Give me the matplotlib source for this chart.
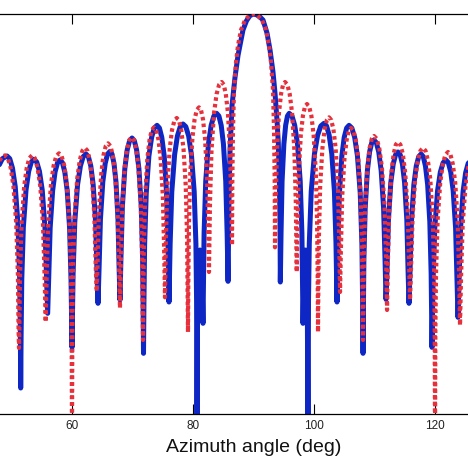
import matplotlib
matplotlib.use("Agg")
import matplotlib.pyplot as plt

# ---- data (azimuth in degrees, normalised pattern in dB) ----
blue_angle = [
    48.00, 48.50, 49.26, 49.71, 50.16, 50.62, 51.07, 51.34, 51.46, 51.52,
    51.59, 51.70, 51.96, 52.40, 52.84, 53.28, 53.72, 54.17, 54.62, 55.08, 55.53, 55.80, 55.98,
    56.14, 56.39, 56.80, 57.20, 57.61, 58.02, 58.42, 58.81, 59.21, 59.60, 59.84, 60.00,
    60.18, 60.46, 60.92, 61.39, 61.85, 62.31, 62.71, 63.11, 63.50, 63.90, 64.14, 64.30,
    64.46, 64.70, 65.09, 65.49, 65.88, 66.28, 66.61, 66.94, 67.27, 67.60, 67.80, 67.93,
    68.09, 68.33, 68.73, 69.12, 69.52, 69.92, 70.30, 70.68, 71.06, 71.44, 71.67, 71.76, 71.82,
    71.89, 72.00, 72.27, 72.71, 73.16, 73.60, 74.05, 74.45, 74.84, 75.24, 75.63, 75.87, 76.03,
    76.22, 76.49, 76.96, 77.42, 77.89, 78.35, 78.81, 79.28, 79.74, 80.20, 80.48, 80.59, 80.66,
    80.75, 80.90, 81.16, 81.40, 81.55, 81.65,
    81.83, 82.10, 82.55, 83.00, 83.45, 83.90, 84.28, 84.66, 85.03, 85.41, 85.64, 85.79,
    85.95, 86.12, 86.45, 86.94, 87.44, 88.26, 88.85, 89.40, 90.00,
    90.58, 91.07, 91.57, 92.23, 92.73, 93.22, 93.55, 93.88, 94.10, 94.26, 94.38, 94.43,
    94.55, 94.72, 95.02, 95.31, 95.61, 95.90, 96.36, 96.81, 97.27, 97.72, 98.00, 98.18,
    98.28, 98.42, 98.60, 98.78, 98.90, 99.01,
    99.09, 99.22, 99.54, 100.07, 100.59, 101.12, 101.65, 102.08, 102.51, 102.94, 103.37, 103.63, 103.80,
    103.96, 104.20, 104.60, 104.99, 105.39, 105.79, 106.25, 106.72, 107.18, 107.64, 107.92, 108.03, 108.10,
    108.15, 108.24, 108.46, 108.82, 109.18, 109.54, 109.90, 110.30, 110.70, 111.10, 111.50, 111.74, 111.90,
    112.06, 112.30, 112.69, 113.09, 113.48, 113.88, 114.24, 114.61, 114.97, 115.34, 115.55, 115.70,
    115.86, 116.10, 116.50, 116.90, 117.30, 117.70, 118.06, 118.42, 118.78, 119.14, 119.36, 119.50,
    119.68, 119.96, 120.42, 120.88, 121.34, 121.80, 122.20, 122.60, 123.00, 123.40, 123.64, 123.80,
    123.97, 124.22, 124.64, 125.06, 125.48, 125.90, 126.30,
]
blue_level = [
    -22.6, -21.7, -21.3, -21.7, -23.1, -25.9, -31.5, -39.3, -47.0, -56.1,
    -48.2, -39.8, -32.0, -26.4, -23.6, -22.2, -21.8, -22.2, -23.6, -26.4, -32.0, -39.8, -44.9,
    -39.9, -32.1, -26.5, -23.7, -22.3, -21.9, -22.3, -23.7, -26.5, -32.1, -39.9, -50.0,
    -39.0, -31.2, -25.6, -22.8, -21.4, -21.0, -21.4, -22.8, -25.6, -31.2, -39.0, -43.4,
    -38.6, -30.8, -25.2, -22.4, -21.0, -20.6, -21.0, -22.4, -25.2, -30.8, -38.6, -42.9,
    -36.6, -28.8, -23.2, -20.4, -19.0, -18.6, -19.0, -20.4, -23.2, -28.8, -36.6, -45.1, -50.9,
    -43.2, -34.7, -26.9, -21.3, -18.5, -17.1, -16.7, -17.1, -18.5, -21.3, -26.9, -34.7, -43.2,
    -34.5, -26.7, -21.1, -18.3, -16.9, -16.5, -16.9, -18.3, -21.1, -26.7, -34.5, -43.0, -65.0,
    -45.0, -38.5, -35.4, -38.0, -42.0, -46.4,
    -32.9, -25.1, -19.5, -16.7, -15.3, -14.9, -15.3, -16.7, -19.5, -25.1, -32.9, -40.1,
    -27.9, -20.4, -13.7, -9.5, -6.2, -2.4, -1.0, -0.25, 0.0,
    -0.15, -0.45, -0.9, -2.85, -5.4, -8.7, -11.85, -15.9, -19.35, -24.9, -30.9, -40.2,
    -32.9, -25.1, -19.5, -16.7, -15.3, -14.9, -15.3, -16.7, -19.5, -25.1, -32.9, -46.4,
    -42.0, -38.0, -35.4, -38.5, -45.0, -65.0,
    -42.9, -34.4, -26.6, -21.0, -18.2, -16.8, -16.4, -16.8, -18.2, -21.0, -26.6, -34.4, -43.2,
    -34.7, -26.9, -21.3, -18.5, -17.1, -16.7, -17.1, -18.5, -21.3, -26.9, -34.7, -43.2, -50.9,
    -45.4, -36.9, -29.1, -23.5, -20.7, -19.3, -18.9, -19.3, -20.7, -23.5, -29.1, -36.9, -42.8,
    -38.7, -30.9, -25.3, -22.5, -21.1, -20.7, -21.1, -22.5, -25.3, -30.9, -38.7, -43.4,
    -39.0, -31.2, -25.6, -22.8, -21.4, -21.0, -21.4, -22.8, -25.6, -31.2, -39.0, -50.0,
    -39.9, -32.1, -26.5, -23.7, -22.3, -21.9, -22.3, -23.7, -26.5, -32.1, -39.9, -45.5,
    -40.0, -32.2, -26.6, -23.8, -22.4, -22.0, -22.4,
]

red_angle = [
    48.00, 48.50, 48.93, 49.39, 49.85, 50.32, 50.78, 51.06, 51.17, 51.24,
    51.30, 51.41, 51.67, 52.10, 52.53, 52.96, 53.39, 53.84, 54.29, 54.75, 55.20, 55.47, 55.65,
    55.83, 56.09, 56.53, 56.97, 57.41, 57.85, 58.28, 58.71, 59.14, 59.57, 59.83, 59.94, 60.00,
    60.06, 60.17, 60.43, 60.86, 61.29, 61.72, 62.15, 62.54, 62.92, 63.31, 63.69, 63.93, 64.08,
    64.23, 64.45, 64.83, 65.20, 65.58, 65.95, 66.35, 66.74, 67.14, 67.53, 67.77, 67.93,
    68.09, 68.32, 68.71, 69.09, 69.48, 69.87, 70.24, 70.62, 70.99, 71.37, 71.59, 71.68, 71.74,
    71.79, 71.88, 72.10, 72.46, 72.83, 73.19, 73.55, 73.91, 74.28, 74.64, 75.01, 75.22, 75.37,
    75.53, 75.76, 76.15, 76.53, 76.92, 77.31, 77.68, 78.05, 78.43, 78.80, 79.02, 79.11, 79.17,
    79.22, 79.32, 79.53, 79.90, 80.26, 80.63, 80.99, 81.32, 81.65, 81.98, 82.31, 82.51, 82.64,
    82.81, 83.06, 83.48, 83.90, 84.32, 84.74, 85.08, 85.42, 85.77, 86.11, 86.31, 86.45,
    86.50, 86.61, 86.78, 87.11, 87.44, 87.93, 88.60, 89.42, 90.00, 90.58, 91.40, 92.07, 92.56, 92.89, 93.22, 93.39, 93.50, 93.55,
    93.68, 93.88, 94.21, 94.55, 94.88, 95.21, 95.60, 95.98, 96.37, 96.75, 96.99, 97.14,
    97.28, 97.48, 97.82, 98.16, 98.50, 98.84, 99.20, 99.57, 99.93, 100.30, 100.51, 100.61, 100.66,
    100.71, 100.81, 101.02, 101.39, 101.75, 102.12, 102.48, 102.84, 103.21, 103.57, 103.94, 104.15, 104.30,
    104.45, 104.66, 105.03, 105.39, 105.76, 106.12, 106.52, 106.91, 107.31, 107.70, 107.94, 108.04, 108.10,
    108.15, 108.25, 108.46, 108.83, 109.19, 109.56, 109.92, 110.35, 110.78, 111.21, 111.64, 111.90, 112.07,
    112.21, 112.43, 112.79, 113.16, 113.52, 113.88, 114.28, 114.68, 115.07, 115.47, 115.71, 115.87,
    116.04, 116.30, 116.73, 117.16, 117.59, 118.02, 118.42, 118.81, 119.21, 119.60, 119.84, 119.94, 120.00,
    120.06, 120.17, 120.43, 120.86, 121.29, 121.72, 122.15, 122.55, 122.94, 123.34, 123.73, 123.97, 124.13,
    124.31, 124.58, 125.04, 125.49, 125.95, 126.40,
]
red_level = [
    -22.0, -21.4, -21.2, -21.6, -23.0, -25.8, -31.4, -39.2, -47.6, -50.1,
    -47.6, -39.2, -31.4, -25.8, -23.0, -21.6, -21.2, -21.6, -23.0, -25.8, -31.4, -39.2, -46.2,
    -38.9, -31.1, -25.5, -22.7, -21.3, -20.9, -21.3, -22.7, -25.5, -31.1, -38.9, -47.4, -65.0,
    -46.6, -38.1, -30.3, -24.7, -21.9, -20.5, -20.1, -20.5, -21.9, -24.7, -30.3, -38.1, -41.6,
    -37.4, -29.6, -24.0, -21.2, -19.8, -19.4, -19.8, -21.2, -24.0, -29.6, -37.4, -44.1,
    -36.5, -28.7, -23.1, -20.3, -18.9, -18.5, -18.9, -20.3, -23.1, -28.7, -36.5, -44.9, -48.9,
    -43.4, -35.0, -27.2, -21.6, -18.8, -17.4, -17.0, -17.4, -18.8, -21.6, -27.2, -35.0, -42.5,
    -33.6, -25.8, -20.2, -17.4, -16.0, -15.6, -16.0, -17.4, -20.2, -25.8, -33.6, -42.1, -47.7,
    -40.5, -32.0, -24.2, -18.6, -15.8, -14.4, -14.0, -14.4, -15.8, -18.6, -24.2, -32.0, -38.7,
    -28.2, -20.4, -14.8, -12.0, -10.6, -10.2, -10.6, -12.0, -14.8, -20.4, -28.2, -34.7,
    -24.9, -17.4, -11.4, -7.2, -4.7, -2.4, -0.9, -0.15, 0.0, -0.15, -0.9, -2.4, -4.7, -7.2, -11.4, -17.4, -24.9, -35.0,
    -28.2, -20.4, -14.8, -12.0, -10.6, -10.2, -10.6, -12.0, -14.8, -20.4, -28.2, -38.7,
    -31.5, -23.7, -18.1, -15.3, -13.9, -13.5, -13.9, -15.3, -18.1, -23.7, -31.5, -40.0, -47.7,
    -41.9, -33.5, -25.7, -20.1, -17.3, -15.9, -15.5, -15.9, -17.3, -20.1, -25.7, -33.5, -41.7,
    -35.1, -27.3, -21.7, -18.9, -17.5, -17.1, -17.5, -18.9, -21.7, -27.3, -35.1, -43.6, -48.9,
    -44.8, -36.3, -28.5, -22.9, -20.1, -18.7, -18.3, -18.7, -20.1, -22.9, -28.5, -36.3, -44.4,
    -37.2, -29.4, -23.8, -21.0, -19.6, -19.2, -19.6, -21.0, -23.8, -29.4, -37.2, -42.9,
    -38.1, -30.3, -24.7, -21.9, -20.5, -20.1, -20.5, -21.9, -24.7, -30.3, -38.1, -46.6, -65.0,
    -47.2, -38.7, -30.9, -25.3, -22.5, -21.1, -20.7, -21.1, -22.5, -25.3, -30.9, -38.7, -46.7,
    -39.2, -31.4, -25.8, -23.0, -21.6, -21.2,
]

x_ticks = [60, 80, 100, 120]
x_label = "Azimuth angle (deg)"

# ---- figure ----
W = H = 468
fig = plt.figure(figsize=(W / 100, H / 100), dpi=100)
ax = fig.add_axes([0, 54 / H, 1, 400 / H])

ax.plot(blue_angle, blue_level, color="#0d26c4", lw=3.6,
        solid_joinstyle="round", solid_capstyle="round", zorder=2)
ax.plot(red_angle, red_level, color="#e6303c", lw=3.0,
        linestyle=(0, (0.85, 0.75)), zorder=3)

ax.set_xlim(48.10, 125.45)
ax.set_ylim(-60, 0)

for side in ("left", "right"):
    ax.spines[side].set_visible(False)
for side in ("top", "bottom"):
    ax.spines[side].set_linewidth(0.9)
    ax.spines[side].set_color("black")

ax.set_xticks(x_ticks)
ax.set_yticks([])
ax.tick_params(axis="x", direction="in", length=7.5, width=0.8, top=True,
               labelsize=8.5, pad=4.5, labelcolor="#222222")
for lbl in ax.get_xticklabels():
    lbl.set_fontfamily("Liberation Sans")

fig.text((90 - 48.10) / (125.45 - 48.10), (H - 452.3) / H, x_label,
         ha="center", va="baseline", fontsize=14, family="Liberation Sans",
         color="#111111")

fig.savefig("out.png", dpi=100)
